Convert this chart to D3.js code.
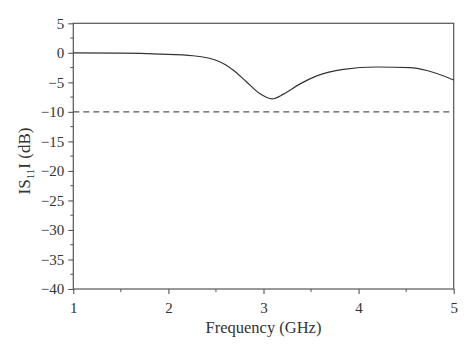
<!DOCTYPE html>
<html lang="en">
<head>
<meta charset="UTF-8">
<title>S11</title>
<script src="https://cdn.jsdelivr.net/npm/d3@7"></script>
<style>
  body { margin: 0; background: #fff; }
  svg text { font-family: "Liberation Serif", "DejaVu Serif", serif; fill: #333; }
</style>
</head>
<body>
<script>
// reflection coefficient vs frequency
var freq = [1.0, 1.5, 1.91, 2.26, 2.54, 2.68, 2.82, 2.96, 3.09, 3.21, 3.38, 3.56, 3.84, 4.19, 4.54, 4.72, 5.0];
var s11  = [0.0, -0.05, -0.22, -0.5, -1.5, -2.9, -4.9, -6.9, -7.8, -7.0, -5.3, -3.9, -2.8, -2.4, -2.5, -3.0, -4.6];
var threshold = -10;
var xTicks = [1, 2, 3, 4, 5];
var yTicks = [5, 0, -5, -10, -15, -20, -25, -30, -35, -40];

var w = 474, h = 355;
// plot edges (note: "top" is reserved on window, so use p-prefixed names)
var pLeft = 73.3, pRight = 453.7, pTop = 23.3, pBottom = 289;

var svg = d3.select('body').append('svg')
  .attr('width', w).attr('height', h);

var x = d3.scaleLinear().domain([1, 5]).range([pLeft, pRight]);
var y = d3.scaleLinear().domain([-40, 5]).range([pBottom, pTop]);

var axisColor = '#555';

// frame
svg.append('rect')
  .attr('x', pLeft).attr('y', pTop)
  .attr('width', pRight - pLeft).attr('height', pBottom - pTop)
  .attr('fill', 'none').attr('stroke', axisColor).attr('stroke-width', 1.2);

// minor ticks
var xMinor = d3.range(1.5, 5, 1);
var yMinor = d3.range(-37.5, 5, 5);

svg.append('g').selectAll('line').data(xMinor).enter().append('line')
  .attr('x1', d => x(d)).attr('x2', d => x(d))
  .attr('y1', pBottom).attr('y2', pBottom + 3)
  .attr('stroke', axisColor);
svg.append('g').selectAll('line').data(yMinor).enter().append('line')
  .attr('x1', pLeft - 3).attr('x2', pLeft)
  .attr('y1', d => y(d)).attr('y2', d => y(d))
  .attr('stroke', axisColor);

var xAxis = d3.axisBottom(x).tickValues(xTicks).tickSize(5).tickPadding(8).tickFormat(d3.format('d'));
var yAxis = d3.axisLeft(y).tickValues(yTicks).tickSize(5).tickPadding(4)
  .tickFormat(d => d < 0 ? '\u2212' + Math.abs(d) : d);

var gx = svg.append('g').attr('transform', 'translate(0,' + pBottom + ')').call(xAxis);
var gy = svg.append('g').attr('transform', 'translate(' + pLeft + ',0)').call(yAxis);

[gx, gy].forEach(function (g) {
  g.select('.domain').remove();
  g.selectAll('line').attr('stroke', axisColor).attr('stroke-width', 1.1);
  g.selectAll('text').attr('font-size', '15px')
    .attr('font-family', '"Liberation Serif", serif').attr('fill', '#2a2a2a');
});

// threshold line
svg.append('line')
  .attr('x1', x(1)).attr('x2', x(5))
  .attr('y1', y(threshold)).attr('y2', y(threshold))
  .attr('stroke', '#555').attr('stroke-width', 1.1)
  .attr('stroke-dasharray', '6,4');

// curve
var line = d3.line()
  .x((d, i) => x(freq[i]))
  .y(d => y(d))
  .curve(d3.curveMonotoneX);

svg.append('path')
  .datum(s11)
  .attr('d', line)
  .attr('fill', 'none')
  .attr('stroke', '#333')
  .attr('stroke-width', 1.2);

// axis titles
svg.append('text')
  .attr('x', (pLeft + pRight) / 2).attr('y', 333)
  .attr('text-anchor', 'middle')
  .attr('font-size', '16.5px')
  .attr('fill', '#2a2a2a')
  .text('Frequency (GHz)');

var yl = svg.append('text')
  .attr('transform', 'translate(30,161) rotate(-90)')
  .attr('text-anchor', 'middle')
  .attr('font-size', '17px')
  .attr('fill', '#2a2a2a');
yl.append('tspan').text('IS');
yl.append('tspan').attr('font-size', '11px').attr('dy', 4).text('11');
yl.append('tspan').attr('dy', -4).text('I (dB)');
</script>
</body>
</html>
